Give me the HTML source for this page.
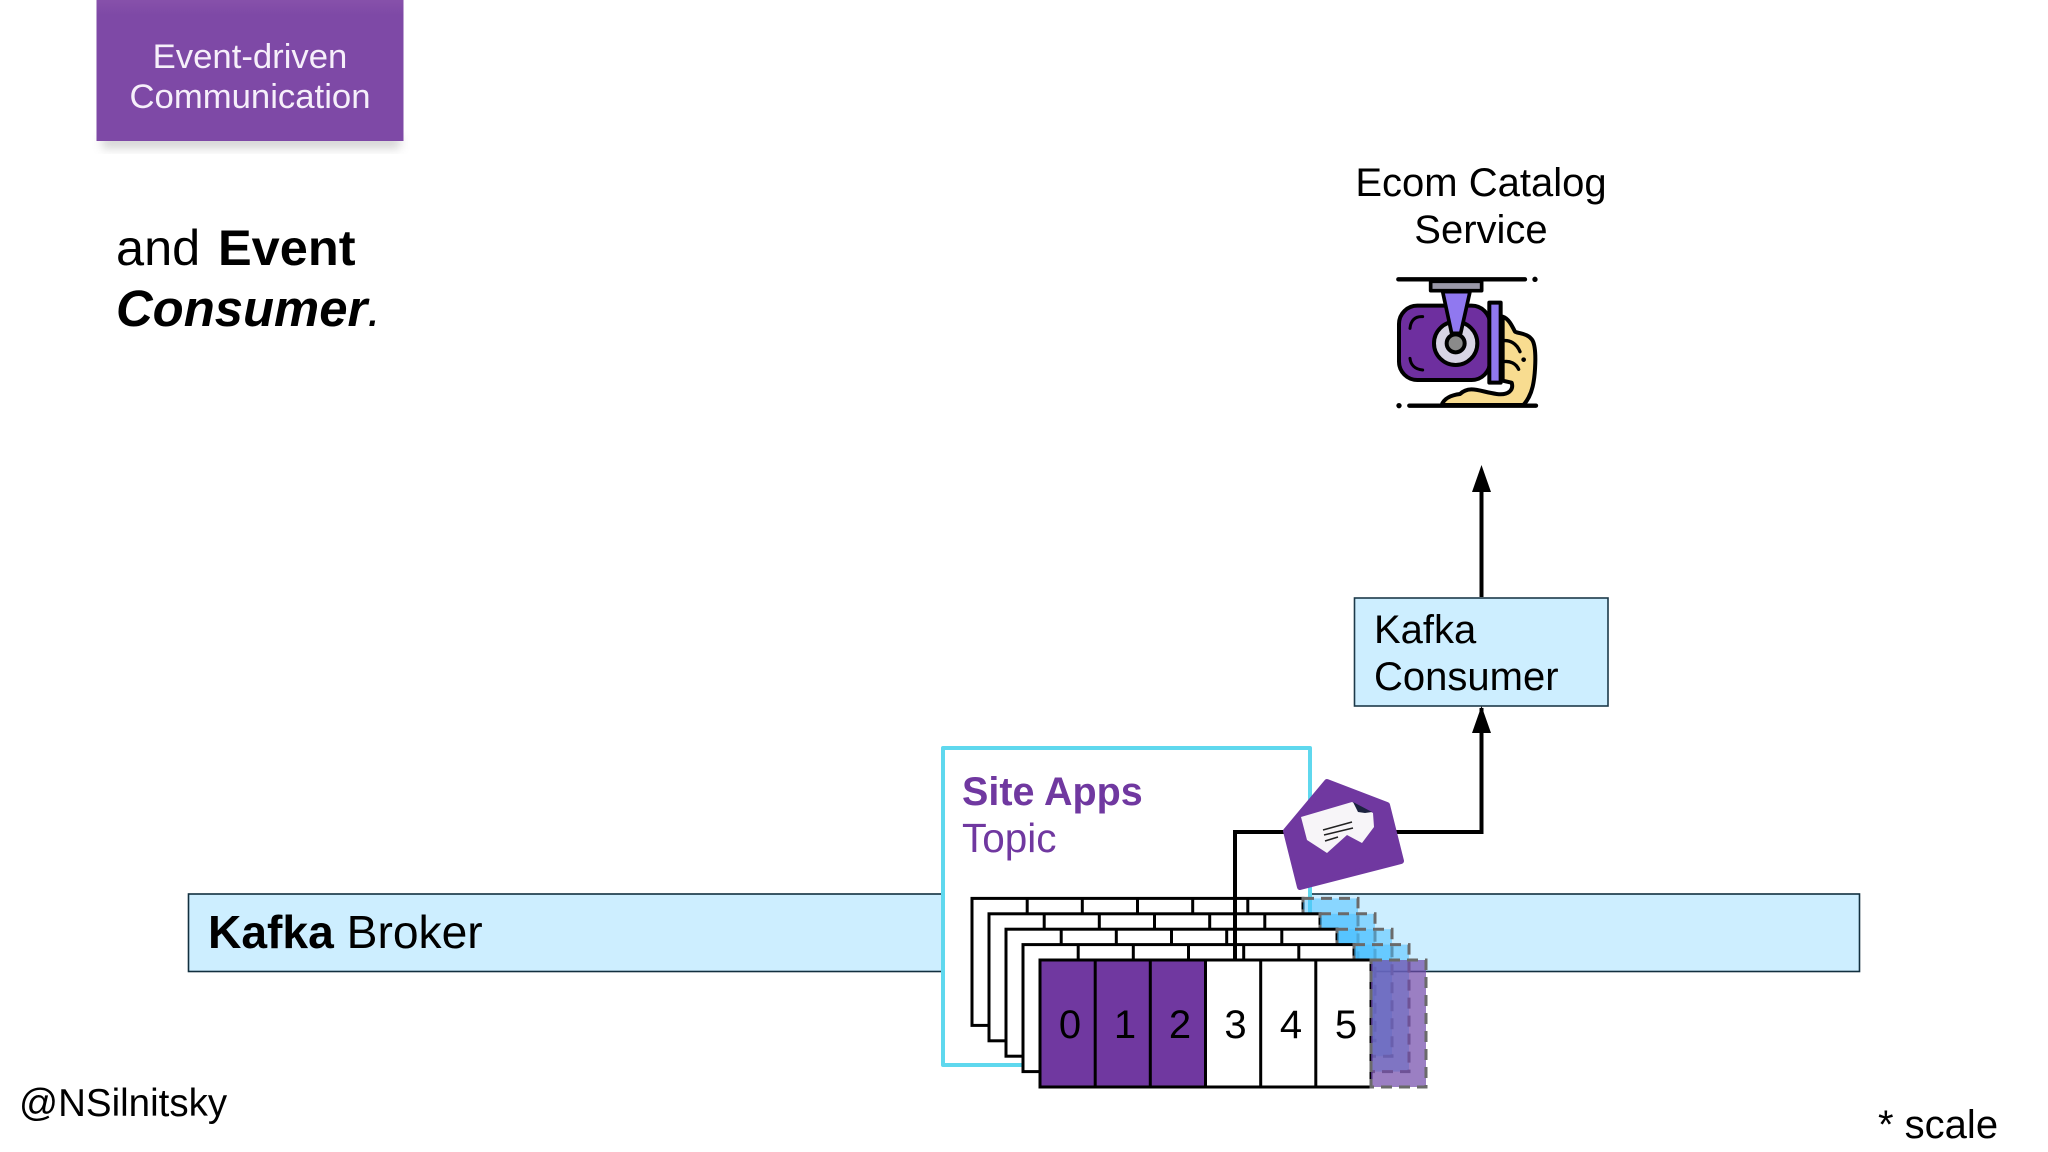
<!DOCTYPE html>
<html><head><meta charset="utf-8">
<style>
html,body{margin:0;padding:0;background:#fff;width:2048px;height:1152px;overflow:hidden}
svg{display:block}
text{font-family:"Liberation Sans",Arial,sans-serif}
</style></head><body>
<svg xmlns="http://www.w3.org/2000/svg" width="2048" height="1152" viewBox="0 0 2048 1152">
<defs>
<filter id="b" x="-10%" y="-50%" width="120%" height="200%"><feGaussianBlur stdDeviation="5"/></filter>
<linearGradient id="g" x1="0" y1="0" x2="0" y2="1"><stop offset="0" stop-color="#8852ab"/><stop offset=".12" stop-color="#7e49a6"/><stop offset="1" stop-color="#7e49a6"/></linearGradient>
<g id="backcells">
<rect x="0" y="0" width="331" height="127" fill="#fff" stroke="#000" stroke-width="3"/>
<path d="M55.2 0V127M110.3 0V127M165.5 0V127M220.7 0V127M275.8 0V127" stroke="#000" stroke-width="3" fill="none"/>
<rect x="331" y="0" width="55" height="127" fill="rgba(70,190,255,.5)" stroke="#6a6a6a" stroke-width="3" stroke-dasharray="11 7"/>
</g>
</defs>

<rect x="102" y="136" width="298" height="12" fill="#999" opacity=".45" filter="url(#b)"/>
<rect x="96.5" y="-2" width="307" height="143" fill="url(#g)"/>
<text x="250" y="68" font-size="34.7" fill="#f6effa" text-anchor="middle">Event-driven</text>
<text x="250" y="108" font-size="34.7" fill="#f6effa" text-anchor="middle">Communication</text>

<text x="116" y="265" font-size="50.5">and</text>
<text x="218" y="265" font-size="50.5" font-weight="700">Event</text>
<text x="116" y="326" font-size="50.8" font-weight="700" font-style="italic">Consumer<tspan font-weight="400">.</tspan></text>

<text x="1481" y="196" font-size="40" text-anchor="middle">Ecom Catalog</text>
<text x="1481" y="243" font-size="40" text-anchor="middle">Service</text>

<g transform="translate(1340 250) scale(.3333)" stroke-linecap="round" stroke-linejoin="round">
<path d="M488 200C505 205 515 225 525 245C540 252 565 250 578 272C592 300 585 380 578 410C572 435 560 455 550 465H305C312 445 335 435 360 432C390 405 420 425 470 432C505 437 522 420 515 398L488 392Z" fill="#f8dc90" stroke="#000" stroke-width="12"/>
<path d="M490 272C510 270 530 280 540 305M490 335C510 332 528 340 536 358" fill="none" stroke="#000" stroke-width="10"/>
<circle cx="551" cy="329" r="7" fill="#000"/>
<rect x="177" y="167" width="273" height="223" rx="55" fill="#6e2f9f" stroke="#000" stroke-width="12"/>
<rect x="448" y="158" width="34" height="240" fill="#9078f0" stroke="#000" stroke-width="12"/>
<path d="M248 200C225 198 212 212 210 235M210 325C212 345 225 358 248 360" fill="none" stroke="#000" stroke-width="9"/>
<path d="M175 88H555" stroke="#000" stroke-width="13"/>
<circle cx="585" cy="88" r="8" fill="#000"/>
<rect x="272" y="94" width="153" height="28" fill="#9a98a8" stroke="#000" stroke-width="11"/>
<circle cx="347" cy="280" r="65" fill="#d8d4e4" stroke="#000" stroke-width="12"/>
<path d="M308 125H390L362 250H335Z" fill="#9078f0" stroke="#000" stroke-width="11"/>
<circle cx="347" cy="280" r="27" fill="#8a8a8a" stroke="#000" stroke-width="12"/>
<path d="M208 467H588" stroke="#000" stroke-width="13"/>
<circle cx="177" cy="467" r="8" fill="#000"/>
</g>

<!-- arrows -->
<path d="M1481.5 597V490" stroke="#000" stroke-width="4" fill="none"/>
<path d="M1481.5 465L1491 492H1472Z" fill="#000"/>

<rect x="1354.5" y="598" width="253.5" height="108" fill="#cdeeff" stroke="#1d3a4a" stroke-width="1.6"/>
<text x="1374" y="643" font-size="40">Kafka</text>
<text x="1374" y="690" font-size="40">Consumer</text>

<!-- band -->
<rect x="188.5" y="894" width="1671" height="77.5" fill="#cdeeff" stroke="#12303f" stroke-width="1.6"/>
<text x="208" y="948" font-size="46.2"><tspan font-weight="700">Kafka</tspan> Broker</text>

<!-- site apps -->
<rect x="943" y="748" width="367" height="317" fill="#fff" stroke="#5fd8ee" stroke-width="4" stroke-linejoin="round"/>
<text x="962" y="805" font-size="39.5" font-weight="700" fill="#7038a0">Site Apps</text>
<text x="962" y="852" font-size="40.5" fill="#7038a0">Topic</text>

<!-- partitions stack -->
<use href="#backcells" x="972" y="898.4"/>
<use href="#backcells" x="989" y="913.8"/>
<use href="#backcells" x="1006" y="929.2"/>
<use href="#backcells" x="1023" y="944.6"/>

<path d="M1235 960V832H1481.5V708" fill="none" stroke="#000" stroke-width="4" stroke-linejoin="miter"/>
<path d="M1481.5 706L1491 733H1472Z" fill="#000"/>

<!-- front partition -->
<rect x="1040" y="960" width="165.5" height="127" fill="#7038a0"/>
<rect x="1205.5" y="960" width="165.5" height="127" fill="#fff"/>
<rect x="1040" y="960" width="331" height="127" fill="none" stroke="#000" stroke-width="3"/>
<path d="M1095.2 960V1087M1150.3 960V1087M1205.5 960V1087M1260.7 960V1087M1315.8 960V1087" stroke="#000" stroke-width="3" fill="none"/>
<rect x="1371" y="960" width="55" height="127" fill="rgba(112,72,170,.7)" stroke="#6a6a6a" stroke-width="3" stroke-dasharray="11 7"/>
<g font-size="40" text-anchor="middle" fill="#000">
<text x="1070" y="1038">0</text><text x="1125" y="1038">1</text><text x="1180" y="1038">2</text>
<text x="1235.5" y="1038">3</text><text x="1291" y="1038">4</text><text x="1346" y="1038">5</text>
</g>

<!-- envelope -->
<path d="M1327 782L1387 805L1401 861L1300 887L1286 831Z" fill="#7038a0" stroke="#7038a0" stroke-width="6" stroke-linejoin="round"/>
<path d="M1301 817L1352 802L1373 813L1374 827L1362 843L1347 835L1327 853L1307 840Z" fill="#f7f5f8"/>
<path d="M1353 802L1372 812L1365 813L1358 812Z" fill="#1c2340"/>
<path d="M1323 830L1352 822M1324 835L1353 828M1325 841L1338 837" stroke="#222" stroke-width="1.5" fill="none"/>

<text x="19" y="1116" font-size="38.5">@NSilnitsky</text>
<text x="1878" y="1138" font-size="40">* scale</text>
</svg>
</body></html>
